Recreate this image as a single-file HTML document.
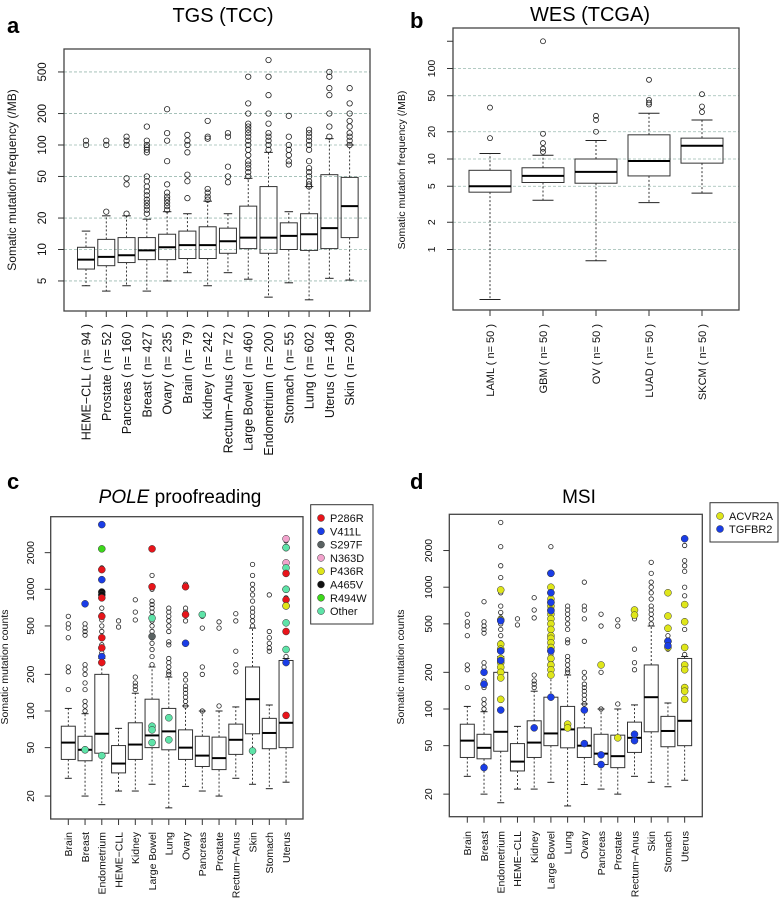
<!DOCTYPE html>
<html><head><meta charset="utf-8"><style>
body{margin:0;background:#fff;}
svg{display:block;font-family:"Liberation Sans",sans-serif;}
</style></head><body>
<svg id="fig" width="779" height="901" viewBox="0 0 779 901" xmlns="http://www.w3.org/2000/svg">
<g id="pa"></g>
<g id="pb"></g>
<g id="pc"></g>
<g id="pd"></g>
</svg>
<script>
// ---------- Panel a data ----------
const catsA = ["HEME\u2212CLL ( n= 94 )","Prostate ( n= 52 )","Pancreas ( n= 160 )","Breast ( n= 427 )","Ovary ( n= 235 )","Brain ( n= 79 )","Kidney ( n= 242 )","Rectum\u2212Anus ( n= 72 )","Large Bowel ( n= 460 )","Endometrium ( n= 200 )","Stomach ( n= 55 )","Lung ( n= 602 )","Uterus ( n= 148 )","Skin ( n= 209 )"];
const medA = [8,8.5,8.8,9.8,10.5,11,11,12,13,13,13.5,14,16,26];
const q1A = [6.5,7,7.5,8,8,8.2,8.2,9.2,10.2,9.2,10,9.8,10.2,13];
const q3A = [10.5,12.5,13,13,14,15,16.5,16,26,40,18,22,52,49];
const loA = [4.5,4,4.5,4,5,6,4.5,6,5.2,3.5,4.8,3.3,5.3,5.1];
const hiA = [15,21,21,19.5,23,22,29,22,48,85,23,40,115,100];
const outA = [[100,110],[23,100,110],[22,42,48,100,110,120],[22,24,26,28,30,33,36,40,45,50,85,90,95,100,110,150],[24,26,28,30,32,35,42,70,110,130,220],[31,45,52,85,100,110,125],[30,32,35,38,115,120,170],[44,50,62,120,130],[50,55,60,65,70,80,90,100,110,120,130,140,150,160,200,250,450],[90,100,110,120,130,160,200,300,450,650],[65,70,80,90,100,120,190],[40,42,45,50,55,60,70,90,100,110,120,130,140],[120,150,200,300,350,450,500],[100,110,120,130,150,170,200,250,350]];
const ticksA = [5,10,20,50,100,200,500];
// ---------- Panel b data ----------
const catsB = ["LAML ( n= 50 )","GBM ( n= 50 )","OV ( n= 50 )","LUAD ( n= 50 )","SKCM ( n= 50 )"];
const medB = [5,6.5,7.2,9.5,14];
const q1B = [4.3,5.5,5.4,6.5,9];
const q3B = [7.5,8,10,18.5,17];
const loB = [0.28,3.5,0.75,3.3,4.2];
const hiB = [11.5,11,16,32,27];
const outB = [[17,37],[12,13,15,19,200],[20,27,30],[40,42,45,75],[33,38,52]];
const ticksB = [1,2,5,10,20,50,100];
// ---------- Panels c/d data (shared boxes) ----------
const catsC = ["Brain","Breast","Endometrium","HEME\u2212CLL","Kidney","Large Bowel","Lung","Ovary","Pancreas","Prostate","Rectum\u2212Anus","Skin","Stomach","Uterus"];
const medC = [55,48,65,37,53,63,68,50,43,41,58,125,66,80];
const q1C = [40,39,45,31,40,50,48,40,35,33,44,65,49,50];
const q3C = [75,62,200,52,80,125,105,70,62,61,78,230,87,260];
const loC = [28,20,17,22,22,25,16,24,22,20,28,25,23,26];
const hiC = [105,95,270,72,140,230,190,110,100,100,108,480,112,270];
const outC = [[150,210,230,400,480,520,600],[100,110,120,150,170,200,220,240,420,450,480,520,760],[300,350,400,450,500,560,620,700,900,1200,1500,2150,3400],[490,550],[150,160,170,190,560,650,820],[240,280,320,360,400,450,500,550,600,650,700,750,800,1000,1300,2150],[200,210,230,250,270,350,370,450,500,550,600,650,700],[110,120,130,140,150,160,180,200,360,550,650,700,1100],[100,200,230,480,600],[110,480,540],[210,240,310,550,630],[500,550,600,650,700,800,900,1000,1100,1300,1600],[310,330,360,400,450,900],[280,320,450,530,730,850,1000,1350,1500,1650,2200,2500]];
const ticksC = [20,50,100,200,500,1000,2000];
const pointCatC = [2,2,2,2,2,2,2,2,2,2,2,2,2,1,1,1,5,5,5,5,5,5,5,6,6,7,7,7,8,11,13,13,13,13,13,13,13,13,13,13,13,13,13,13,13,13];
const pointValC = [3400,2150,1450,1200,950,900,850,600,400,330,280,250,43,760,48,48,2150,1050,580,410,75,70,55,88,58,1050,620,360,620,47,2600,2200,2200,1650,1500,1350,1000,1000,820,730,730,530,450,320,250,92];
const pointMutC = ["V411L","R494W","P286R","V411L","A465V","A465V","P286R","P286R","P286R","P286R","V411L","P286R","Other","V411L","Other","Other","P286R","P286R","Other","S297F","Other","Other","Other","Other","Other","P286R","P286R","V411L","Other","Other","N363D","S297F","Other","N363D","Other","P286R","P286R","Other","P286R","Other","P436R","Other","P286R","Other","V411L","P286R"];
const legendC = ["P286R","V411L","S297F","N363D","P436R","A465V","R494W","Other"];
const pointCatD = [1,1,1,1,2,2,2,2,2,2,2,2,2,2,2,2,2,2,2,4,5,5,5,5,5,5,5,5,5,5,5,5,5,5,5,5,5,5,5,5,5,5,5,5,5,5,6,6,7,7,8,8,8,9,10,10,10,10,12,12,12,12,12,12,12,13,13,13,13,13,13,13,13,13];
const pointValD = [160,200,160,33,950,540,530,340,310,300,260,240,220,200,180,120,300,250,98,70,1300,1000,900,800,750,700,650,600,550,500,450,400,380,350,320,300,260,230,210,190,1300,900,750,640,300,125,75,70,98,52,230,42,35,58,650,590,62,55,900,580,460,360,320,360,330,2500,720,520,320,230,210,150,140,120];
const pointMutD = ["ACVR2A","TGFBR2","TGFBR2","TGFBR2","ACVR2A","ACVR2A","TGFBR2","ACVR2A","ACVR2A","ACVR2A","ACVR2A","ACVR2A","ACVR2A","ACVR2A","ACVR2A","ACVR2A","TGFBR2","TGFBR2","TGFBR2","TGFBR2","ACVR2A","ACVR2A","ACVR2A","ACVR2A","ACVR2A","ACVR2A","ACVR2A","ACVR2A","ACVR2A","ACVR2A","ACVR2A","ACVR2A","ACVR2A","ACVR2A","ACVR2A","ACVR2A","ACVR2A","ACVR2A","ACVR2A","ACVR2A","TGFBR2","TGFBR2","TGFBR2","TGFBR2","TGFBR2","TGFBR2","ACVR2A","ACVR2A","TGFBR2","TGFBR2","ACVR2A","TGFBR2","TGFBR2","ACVR2A","ACVR2A","ACVR2A","TGFBR2","TGFBR2","ACVR2A","ACVR2A","ACVR2A","ACVR2A","ACVR2A","TGFBR2","TGFBR2","TGFBR2","ACVR2A","ACVR2A","ACVR2A","ACVR2A","ACVR2A","ACVR2A","ACVR2A","ACVR2A"];
const legendD = ["ACVR2A","TGFBR2"];

const colorMap = {"P286R":"#e8141a","V411L":"#1a3de6","S297F":"#5a6262","N363D":"#f2a2cc","P436R":"#dfe61a","A465V":"#111111","R494W":"#3cd81a","Other":"#5ee3a8","ACVR2A":"#dfe61a","TGFBR2":"#1a3de6"};

const NS="http://www.w3.org/2000/svg";
function mk(parent,tag,attrs,text){const e=document.createElementNS(NS,tag);for(const k in attrs)e.setAttribute(k,attrs[k]);if(text!==undefined)e.textContent=text;parent.appendChild(e);return e;}

function panel(g,cfg){
  const {x0,x1,y0,y1,yOf,xOf,bw,ticks,cats,med,q1,q3,lo,hi,out,tickX,labelY,fs,tfs,orr,gridTicks,extraTicks,ytitle,ytX,ytY,ytFs} = cfg;
  gridTicks.forEach(t=>{const y=yOf(t);
    const l=mk(g,'line',{x1:x0,x2:x1,y1:y,y2:y,stroke:'#9bbab0','stroke-width':0.8,'stroke-dasharray':'3,2'});
    
    });
  cats.forEach((c,i)=>{
    const cx=xOf(i);
    const bg=mk(g,'g',{});
    
    
    mk(bg,'line',{x1:cx,x2:cx,y1:yOf(q3[i]),y2:yOf(hi[i]),stroke:'#222','stroke-width':0.9,'stroke-dasharray':'2,2'});
    mk(bg,'line',{x1:cx,x2:cx,y1:yOf(q1[i]),y2:yOf(lo[i]),stroke:'#222','stroke-width':0.9,'stroke-dasharray':'2,2'});
    mk(bg,'line',{x1:cx-bw/4,x2:cx+bw/4,y1:yOf(hi[i]),y2:yOf(hi[i]),stroke:'#222','stroke-width':1});
    mk(bg,'line',{x1:cx-bw/4,x2:cx+bw/4,y1:yOf(lo[i]),y2:yOf(lo[i]),stroke:'#222','stroke-width':1});
    mk(bg,'rect',{x:cx-bw/2,y:yOf(q3[i]),width:bw,height:yOf(q1[i])-yOf(q3[i]),fill:'none',stroke:'#333','stroke-width':1});
    mk(bg,'line',{x1:cx-bw/2,x2:cx+bw/2,y1:yOf(med[i]),y2:yOf(med[i]),stroke:'#000','stroke-width':2});
    out[i].forEach(v=>{mk(bg,'circle',{cx:cx,cy:yOf(v),r:orr,fill:'none',stroke:'#222','stroke-width':0.8});});
    mk(g,'line',{x1:cx,x2:cx,y1:y1,y2:y1+6,stroke:'#333','stroke-width':1});
    const t=mk(g,'text',{x:0,y:0,transform:`translate(${cx+fs*0.36},${labelY}) rotate(-90)`,'text-anchor':'end','font-size':fs,fill:'#111'},c);
    
    
  });
  const fr=mk(g,'rect',{x:x0,y:y0,width:x1-x0,height:y1-y0,fill:'none',stroke:'#444','stroke-width':1.3});
  
  
  ticks.concat(extraTicks||[]).forEach(t=>{const y=yOf(t);
    mk(g,'line',{x1:x0-6,x2:x0,y1:y,y2:y,stroke:'#333','stroke-width':1});});
  ticks.forEach(t=>{const y=yOf(t);
    const tl=mk(g,'text',{transform:`translate(${tickX},${y}) rotate(-90)`,'text-anchor':'middle','font-size':tfs,fill:'#111'},String(t));
    
    });
  const yt=mk(g,'text',{transform:`translate(${ytX},${ytY}) rotate(-90)`,'text-anchor':'middle','font-size':ytFs,fill:'#111'},ytitle);
  
  
}

function title(g,x,y,txt,size,italicPart){
  const t=mk(g,'text',{x:x,y:y,'text-anchor':'middle','font-size':size,fill:'#000'});
  
  
  if(italicPart){mk(t,'tspan',{'font-style':'italic'},italicPart);}
  mk(t,'tspan',{},txt);
}
function letter(g,x,y,l){const t=mk(g,'text',{x:x,y:y,'font-size':22,'font-weight':'bold',fill:'#000'},l);
  
  }

const ga=document.getElementById('pa');
const yA=v=>249.5-(Math.log10(v)-1)*104.5;
letter(ga,7,33,'a');
title(ga,223,22,'TGS (TCC)',20);
panel(ga,{x0:64,x1:370,y0:49,y1:311,yOf:yA,xOf:i=>86+i*20.28,bw:17,ticks:ticksA,gridTicks:ticksA,cats:catsA,med:medA,q1:q1A,q3:q3A,lo:loA,hi:hiA,out:outA,tickX:46,labelY:324,fs:12.5,tfs:11.5,orr:2.7,ytitle:'Somatic mutation frequency (/MB)',ytX:16,ytY:180,ytFs:12});

const gb=document.getElementById('pb');
const yB=v=>249.5-Math.log10(v)*90.5;
letter(gb,410,28,'b');
title(gb,590,21,'WES (TCGA)',20);
panel(gb,{x0:453,x1:739,y0:28,y1:310,yOf:yB,xOf:i=>490+i*53,bw:42,ticks:ticksB,gridTicks:ticksB,extraTicks:[200],cats:catsB,med:medB,q1:q1B,q3:q3B,lo:loB,hi:hiB,out:outB,tickX:435,labelY:324,fs:11,tfs:10.5,orr:2.5,ytitle:'Somatic mutation frequency (/MB)',ytX:405,ytY:170,ytFs:10.5});

const gc=document.getElementById('pc');
const yC=v=>711-(Math.log10(v)-2)*121.7;
const xC=i=>68.3+i*16.75;
letter(gc,7,489,'c');
title(gc,180,503,' proofreading',19,'POLE');
panel(gc,{x0:50.7,x1:303,y0:516.7,y1:819,yOf:yC,xOf:xC,bw:14,ticks:ticksC,gridTicks:[],cats:catsC,med:medC,q1:q1C,q3:q3C,lo:loC,hi:hiC,out:outC,tickX:34,labelY:832,fs:10.5,tfs:10.5,orr:2.2,ytitle:'Somatic mutation counts',ytX:8,ytY:667,ytFs:10.5});
pointCatC.forEach((c,i)=>{const p=mk(gc,'circle',{cx:xC(c),cy:yC(pointValC[i]),r:3.5,fill:colorMap[pointMutC[i]],stroke:'#333','stroke-width':0.5});
  
  });
const lgC=mk(gc,'g',{});


mk(lgC,'rect',{x:310.7,y:504.7,width:62.3,height:119.3,fill:'#fff',stroke:'#333','stroke-width':1});
legendC.forEach((m,i)=>{const e=mk(lgC,'g',{});
  
  
  mk(e,'circle',{cx:321,cy:518+i*13.3,r:3.5,fill:colorMap[m],stroke:'#333','stroke-width':0.5});
  mk(e,'text',{x:330,y:522+i*13.3,'font-size':11,fill:'#111'},m);});

const gd=document.getElementById('pd');
const yD=v=>709-(Math.log10(v)-2)*121.8;
const xD=i=>467.3+i*16.72;
letter(gd,410,489,'d');
title(gd,579,503,'MSI',19);
panel(gd,{x0:449.3,x1:702.3,y0:514.3,y1:816.7,yOf:yD,xOf:xD,bw:14,ticks:ticksC,gridTicks:[],cats:catsC,med:medC,q1:q1C,q3:q3C,lo:loC,hi:hiC,out:outC,tickX:432,labelY:831,fs:10.5,tfs:10.5,orr:2.2,ytitle:'Somatic mutation counts',ytX:404,ytY:667,ytFs:10.5});
pointCatD.forEach((c,i)=>{const p=mk(gd,'circle',{cx:xD(c),cy:yD(pointValD[i]),r:3.5,fill:colorMap[pointMutD[i]],stroke:'#333','stroke-width':0.5});
  
  });
const lgD=mk(gd,'g',{});


mk(lgD,'rect',{x:710,y:502.7,width:68,height:39.3,fill:'#fff',stroke:'#333','stroke-width':1});
legendD.forEach((m,i)=>{const e=mk(lgD,'g',{});
  
  
  mk(e,'circle',{cx:720,cy:516+i*13,r:3.5,fill:colorMap[m],stroke:'#333','stroke-width':0.5});
  mk(e,'text',{x:729,y:520+i*13,'font-size':11,fill:'#111'},m);});
</script>
</body></html>
